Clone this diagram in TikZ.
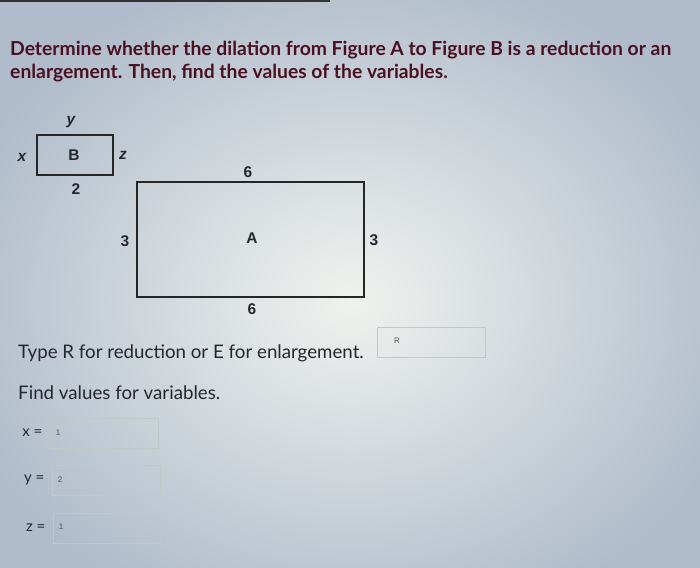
\documentclass[tikz,border=0pt]{standalone}
\usepackage{fontspec}
\setmainfont{Lato}
\newfontfamily\figfont{Liberation Sans}
\usetikzlibrary{positioning}
\definecolor{titlered}{HTML}{4A1020}
\definecolor{bodyink}{HTML}{26262E}
\definecolor{screenlight}{HTML}{F0F2EE}
\definecolor{screendark}{HTML}{B0BCCB}
\definecolor{boxline}{HTML}{C2C8C8}

\begin{document}
\begin{tikzpicture}[
    x=1pt,
    y=-1pt,
    title/.style={anchor=base west, inner sep=0pt, text=titlered, font=\fontsize{19.3}{21}\selectfont\bfseries},
    body/.style={anchor=base west, inner sep=0pt, text=bodyink, font=\fontsize{18.7}{20}\selectfont},
    lbl/.style={inner sep=1pt, text=bodyink, font=\figfont\fontsize{15.5}{17}\selectfont\bfseries},
    fig/.style={draw=black!85, line width=2.4pt},
    answer/.style={draw=boxline, line width=0.8pt, minimum width=108pt, minimum height=30pt, inner sep=0pt},
    small/.style={inner sep=0pt, text=bodyink!80, font=\figfont\fontsize{8}{9}\selectfont},
    eq/.style={anchor=east, inner sep=0pt, text=bodyink, font=\fontsize{15}{16}\selectfont}
  ]

  % --- FUNDO ---
  \path[use as bounding box, clip] (0,0) rectangle (700,567);
  \shade[inner color=screenlight, outer color=screendark] (-60,-40) rectangle (760,640);
  \fill[black!80] (0,0) rectangle (330,2);

  % --- ENUNCIADO ---
  \node[title] (t1) at (10,56) {Determine whether the dilation from Figure A to Figure B is a reduction or an};
  \node[title] (t2) at (10,79) {enlargement. Then, find the values of the variables.};

  % --- FIGURA B ---
  \draw[fig] (37,135) rectangle (113,175);
  \node[lbl] (nb) at (74,155) {B};
  \node[lbl] (by) at (71,122) {\itshape y};
  \node[lbl] (bx) at (22,157) {\itshape x};
  \node[lbl] (bz) at (123,155) {\itshape z};
  \node[lbl] (b2) at (76,189) {2};

  % --- FIGURA A ---
  \draw[fig] (137,182) rectangle (364,297);
  \node[lbl] (na) at (252,238) {A};
  \node[lbl] (at) at (248,172) {6};
  \node[lbl] (ab) at (252,309) {6};
  \node[lbl] (al) at (125,241) {3};
  \node[lbl] (ar) at (374,240) {3};

  % --- RESPOSTAS ---
  \node[body] (tipo) at (18,358) {Type R for reduction or E for enlargement.};
  \node[answer] (boxr) at (431,342) {};
  \node[small] (vr) at (397,341) {R};
  \node[body] (find) at (18,399) {Find values for variables.};

  \node[answer] (boxx) at (104,433) {};
  \node[eq, left=7pt of boxx] (ex) {x =};
  \node[small] (vx) at (58,433) {1};

  \node[answer] (boxy) at (106,480) {};
  \node[eq, left=7pt of boxy] (ey) {y =};
  \node[small] (vy) at (60,480) {2};

  \node[answer] (boxz) at (107,528) {};
  \node[eq, left=7pt of boxz] (ez) {z =};
  \node[small] (vz) at (61,527) {1};

\end{tikzpicture}
\end{document}
